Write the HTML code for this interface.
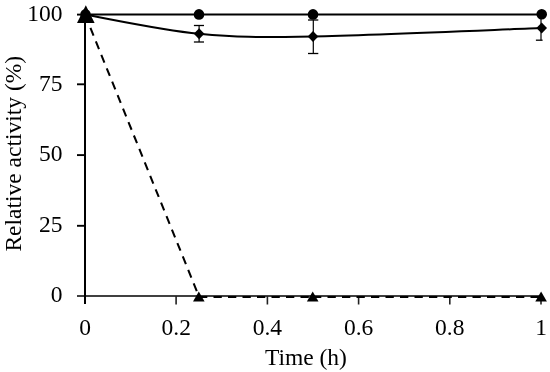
<!DOCTYPE html>
<html><head><meta charset="utf-8">
<style>
html,body{margin:0;padding:0;background:#fff;}
svg{display:block;}
text{font-family:"Liberation Serif",serif;font-size:23.5px;fill:#000;}
</style></head>
<body>
<svg width="550" height="372" viewBox="0 0 550 372">
<rect width="550" height="372" fill="#fff"/>
<!-- axes -->
<g stroke="#000" fill="none">
  <line x1="85" y1="14.5" x2="85" y2="304" stroke-width="2"/>
  <line x1="77" y1="296" x2="541" y2="296" stroke-width="1.5"/>
  <!-- y ticks -->
  <g stroke-width="1.9">
    <line x1="77" y1="14.6" x2="85" y2="14.6"/>
    <line x1="77" y1="84.3" x2="85" y2="84.3"/>
    <line x1="77" y1="155.1" x2="85" y2="155.1"/>
    <line x1="77" y1="225.8" x2="85" y2="225.8"/>
  </g>
  <!-- x ticks -->
  <g stroke-width="1.6" stroke="#222">
    <line x1="176.1" y1="296" x2="176.1" y2="304.5"/>
    <line x1="267.4" y1="296" x2="267.4" y2="304.5"/>
    <line x1="358.6" y1="296" x2="358.6" y2="304.5"/>
    <line x1="449.8" y1="296" x2="449.8" y2="304.5"/>
    <line x1="541" y1="296" x2="541" y2="304.5"/>
  </g>
</g>
<!-- labels -->
<g text-anchor="end">
  <text x="62.5" y="20.7">100</text>
  <text x="62.5" y="91">75</text>
  <text x="62.5" y="161.4">50</text>
  <text x="62.5" y="231.7">25</text>
  <text x="62.5" y="302.1">0</text>
</g>
<g text-anchor="middle">
  <text x="85" y="335.3">0</text>
  <text x="176.2" y="335.3">0.2</text>
  <text x="267.4" y="335.3">0.4</text>
  <text x="358.6" y="335.3">0.6</text>
  <text x="449.8" y="335.3">0.8</text>
  <text x="541" y="335.3">1</text>
  <text x="305.9" y="365.1">Time (h)</text>
  <text transform="translate(20.7,153.7) rotate(-90)">Relative activity (%)</text>
</g>
<!-- circle series -->
<line x1="85" y1="14.6" x2="541" y2="14.6" stroke="#000" stroke-width="2"/>
<!-- diamond series -->
<path d="M85,14.6 C104.00,17.80 161.00,30.17 199,33.8 C237.00,37.43 255.88,37.36 313,36.4 C370.12,35.44 503.58,29.44 541.7,28.05" stroke="#000" stroke-width="2" fill="none"/>
<!-- error bars -->
<g stroke="#000" fill="none">
  <g stroke-width="1.2">
  <line x1="199.1" y1="25.5" x2="199.1" y2="42"/>
  <line x1="313.3" y1="20" x2="313.3" y2="53.5"/>
  <line x1="541" y1="16" x2="541" y2="40.2"/>
  </g>
  <g stroke-width="1.3">
  <line x1="193.9" y1="25.5" x2="204" y2="25.5"/>
  <line x1="193.9" y1="42" x2="204" y2="42"/>
  <line x1="308" y1="20" x2="318.3" y2="20"/>
  <line x1="308" y1="53.5" x2="318.3" y2="53.5"/>
  <line x1="535.9" y1="40.2" x2="542.6" y2="40.2"/>
  </g>
</g>
<!-- triangle series dashed -->
<g stroke="#000" stroke-width="2.05" fill="none" stroke-dasharray="8.3 6.2">
  <line x1="85" y1="14.5" x2="199" y2="296.6"/>
  <line x1="199" y1="296.9" x2="313" y2="296.9"/>
  <line x1="313" y1="296.9" x2="541" y2="296.9"/>
</g>
<!-- markers -->
<g fill="#000">
  <circle cx="85.5" cy="14.4" r="5.3"/>
  <circle cx="199" cy="14.4" r="5.3"/>
  <circle cx="313" cy="14.4" r="5.3"/>
  <circle cx="541.7" cy="14.3" r="5.3"/>
  <polygon points="199.1,28.3 204.4,33.8 199.1,39.3 193.8,33.8"/>
  <polygon points="313,30.9 318.3,36.4 313,41.9 307.7,36.4"/>
  <polygon points="541.7,22.6 547,28.05 541.7,33.5 536.4,28.05"/>
  <polygon points="198.8,291.5 204.6,301.5 193,301.5"/>
  <polygon points="312.7,291.4 318.5,301.6 306.9,301.6"/>
  <polygon points="541.1,291.4 546.9,301.6 535.3,301.6"/>
  <polygon points="85.8,5.3 94.6,23 77,23"/>
</g>
</svg>
</body></html>
